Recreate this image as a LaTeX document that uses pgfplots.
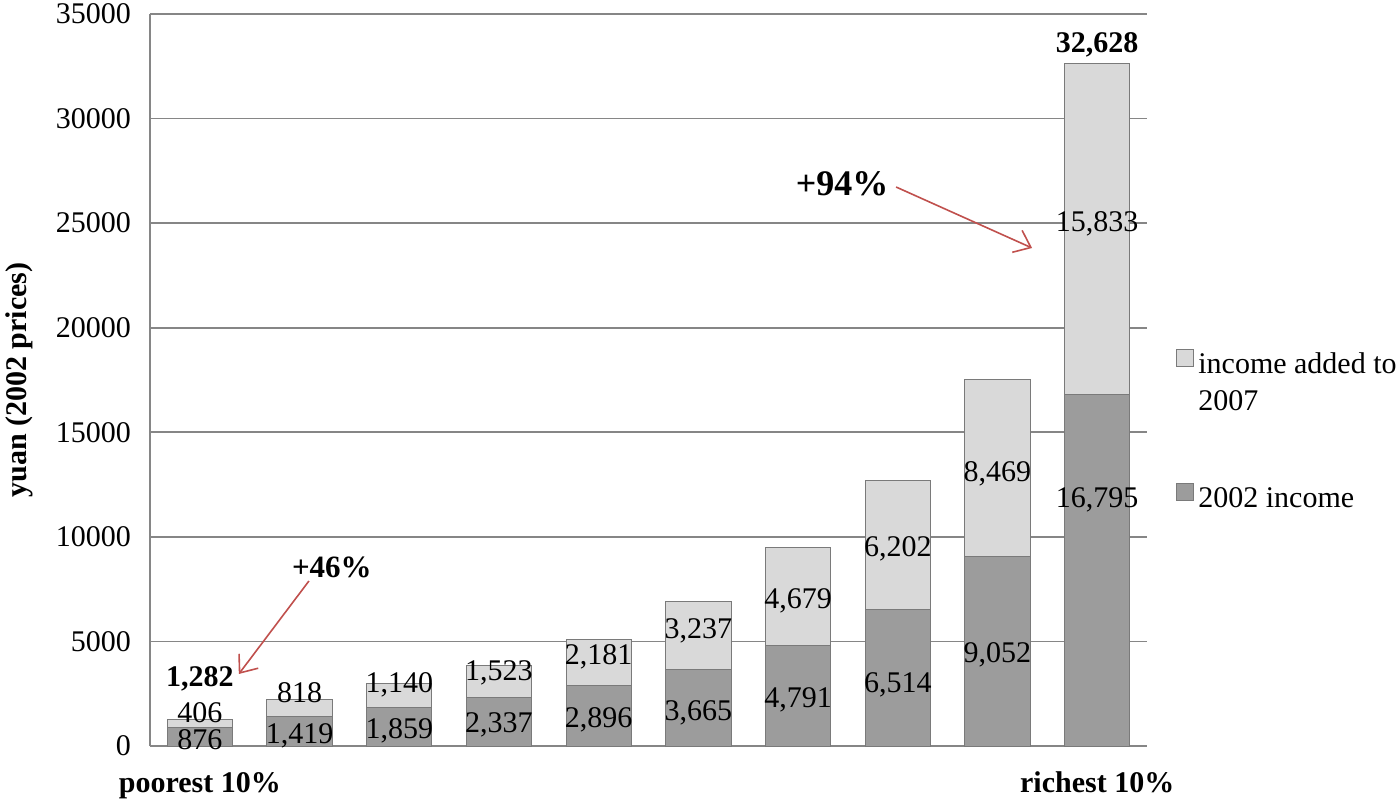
\documentclass[border=0pt]{standalone}
\usepackage{fontspec}
\setmainfont{Liberation Serif}
\usepackage{pgfplots}
\pgfplotsset{compat=1.18}
\usetikzlibrary{arrows.meta}
\definecolor{lightbar}{HTML}{D9D9D9}
\definecolor{darkbar}{HTML}{9C9C9C}
\definecolor{edgec}{HTML}{7A7A7A}
\definecolor{gridc}{HTML}{868686}
\definecolor{arrowred}{HTML}{C0504D}
\newcommand{\fs}{\fontsize{15}{18.5}\selectfont}
\tikzset{lab/.style={font=\fs, yshift=-1.5pt}}

\newcommand{\annotations}{%
% segment labels (2002 income)
\node[lab] at (axis cs:0,430) {876};
\node[lab] at (axis cs:1,622) {1,419};
\node[lab] at (axis cs:2,861) {1,859};
\node[lab] at (axis cs:3,1147) {2,337};
\node[lab] at (axis cs:4,1386) {2,896};
\node[lab] at (axis cs:5,1721) {3,665};
\node[lab] at (axis cs:6,2343) {4,791};
\node[lab] at (axis cs:7,3060) {6,514};
\node[lab] at (axis cs:8,4494) {9,052};
\node[lab] at (axis cs:9,11905) {16,795};
% segment labels (added)
\node[lab] at (axis cs:0,1721) {406};
\node[lab] at (axis cs:1,2677) {818};
\node[lab] at (axis cs:2,3060) {1,140};
\node[lab] at (axis cs:3,3634) {1,523};
\node[lab] at (axis cs:4,4399) {2,181};
\node[lab] at (axis cs:5,5642) {3,237};
\node[lab] at (axis cs:6,7076) {4,679};
\node[lab] at (axis cs:7,9562) {6,202};
\node[lab] at (axis cs:8,13148) {8,469};
\node[lab] at (axis cs:9,25100) {15,833};
% totals
\node[lab, font=\fs\bfseries] at (axis cs:0,3347) {1,282};
\node[lab, font=\fs\bfseries] at (axis cs:9,33658) {32,628};
% annotations
\node[font=\fontsize{15.5}{18}\selectfont\bfseries] at (axis cs:1.324,8559) {+46\%};
\node[font=\fontsize{18}{21}\selectfont\bfseries] at (axis cs:6.441,26871) {+94\%};
\draw[arrowred, line width=0.8pt, -{Straight Barb[length=7.5pt,width=12pt]}] (axis cs:1.094,7889) -- (axis cs:0.391,3443);
\draw[arrowred, line width=0.8pt, -{Straight Barb[length=7.5pt,width=12pt]}] (axis cs:6.983,26728) -- (axis cs:8.347,23811);
}

\begin{document}
\begin{tikzpicture}
\path[use as bounding box] (0,0) rectangle (700pt,401pt);
\begin{axis}[
  at={(75pt,28pt)}, anchor=south west,
  scale only axis, width=498.5pt, height=366pt,
  ybar stacked, bar width=0.655,
  xmin=-0.5, xmax=9.5, ymin=0, ymax=35000,
  axis lines*=left,
  axis line style={draw=gridc, line width=0.9pt},
  ytick={0,5000,...,35000},
  ymajorgrids, grid style={draw=gridc, line width=0.9pt},
  major tick length=0pt,
  scaled y ticks=false,
  yticklabel style={font=\fs, xshift=-6pt, /pgf/number format/.cd, fixed, 1000 sep={}, assume math mode=true},
  xtick={0,9}, xticklabels={poorest 10\%, richest 10\%},
  xticklabel style={font=\fs\bfseries, yshift=-9.5pt},
  ylabel={yuan (2002 prices)},
  ylabel style={font=\fs\bfseries, at={(axis description cs:-0.1314,0.5)}, anchor=center},
  reverse legend,
  legend style={draw=none, fill=none, at={(1.023,0.549)}, anchor=north west,
    font=\fs, row sep=51pt, cells={anchor=west}},
  legend image code/.code={\draw[#1] (0pt,-0.5pt) rectangle (8.5pt,8pt);},
  after end axis/.code={\annotations},
]
\addplot[fill=darkbar, draw=edgec, line width=0.5pt] coordinates {
  (0,876) (1,1419) (2,1859) (3,2337) (4,2896) (5,3665) (6,4791) (7,6514) (8,9052) (9,16795)};
\addlegendentry{2002 income}
\addplot[fill=lightbar, draw=edgec, line width=0.5pt] coordinates {
  (0,406) (1,818) (2,1140) (3,1523) (4,2181) (5,3237) (6,4679) (7,6202) (8,8469) (9,15833)};
\addlegendentry{\parbox[t]{110pt}{income added to\\2007}}
\end{axis}
\end{tikzpicture}
\end{document}
